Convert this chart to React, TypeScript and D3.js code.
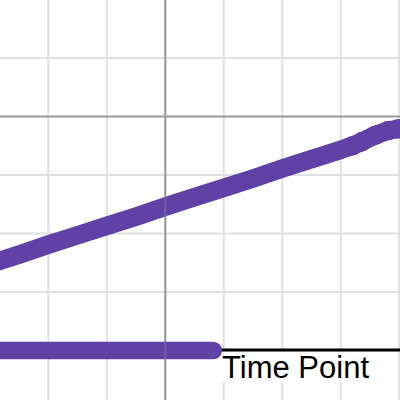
import React from "react";
import * as d3 from "d3";

// Diagonal series (time point, value), in grid units
const diagX = [-3, -2.5, -2, -1.5, -1, -0.5, 0, 0.5, 1, 1.5, 2, 2.5, 3, 3.2, 3.36, 3.59, 3.81, 3.98, 4.18];
const diagY = [-2.52, -2.36, -2.19, -2.03, -1.87, -1.71, -1.54, -1.38, -1.22, -1.06, -0.89, -0.73, -0.57, -0.5, -0.43, -0.32, -0.24, -0.21, -0.19];

// Flat series
const flatX = [-3, -2.5, -2, -1.5, -1, -0.5, 0, 0.5, 0.82];
const flatY = [-4, -4, -4, -4, -4, -4, -4, -4, -4];

const gridX = [-2, -1, 0, 1, 2, 3, 4];
const gridY = [1, 0, -1, -2, -3, -4];
const axisLabel = "Time Point";
const baselineValue = -3.99;

const W = 400;
const H = 400;
const UNIT = 58.5;
const OX = 165.3;
const OY = 116.5;

const x = d3.scaleLinear().domain([-OX / UNIT, (W - OX) / UNIT]).range([0, W]);
const y = d3.scaleLinear().domain([OY / UNIT, -(H - OY) / UNIT]).range([0, H]);

const PURPLE = "#6042a6";
const RF = 8.8;
const RD = 9.8;

export default function App() {
  const diag = diagX.map((v, i) => [v, diagY[i]] as [number, number]);
  const flat = flatX.map((v, i) => [v, flatY[i]] as [number, number]);
  const line = d3
    .line<[number, number]>()
    .x((d) => x(d[0]))
    .y((d) => y(d[1]));

  return (
    <div style={{ position: "fixed", left: 0, top: 0 }}>
      <svg width={W} height={H} style={{ display: "block", background: "#fff" }}>
        {gridX.filter((g) => g !== 0).map((g) => (
          <line key={"gx" + g} x1={x(g)} x2={x(g)} y1={0} y2={H} stroke="#e0e0e0" strokeWidth={2} />
        ))}
        {gridY.filter((g) => g !== 0).map((g) => (
          <line key={"gy" + g} x1={0} x2={W} y1={y(g)} y2={y(g)} stroke="#e0e0e0" strokeWidth={2} />
        ))}
        <line x1={x(0)} x2={x(0)} y1={0} y2={H} stroke="#999" strokeWidth={2} />

        <line x1={0} x2={W} y1={y(baselineValue)} y2={y(baselineValue)} stroke="#000" strokeWidth={3} />
        <rect x={219} y={352} width={153} height={31} fill="#fff" />
        <text
          x={222}
          y={378}
          fontFamily="'Liberation Sans', Arial, sans-serif"
          fontSize={31}
          fill="#000"
        >
          {axisLabel}
        </text>

        <path d={line(flat) || ""} fill="none" stroke={PURPLE} strokeWidth={2 * RF} strokeLinecap="round" strokeLinejoin="round" />
        <path d={line(diag) || ""} fill="none" stroke={PURPLE} strokeWidth={2 * RD - 1} strokeLinecap="round" strokeLinejoin="round" />
        {diag.slice(13).map((d, i) => (
          <circle key={"d" + i} cx={x(d[0])} cy={y(d[1])} r={RD} fill={PURPLE} />
        ))}

        <line x1={x(0)} x2={x(0)} y1={0} y2={H} stroke="#999" strokeWidth={2} strokeOpacity={0.3} />
        <line x1={0} x2={W} y1={y(0)} y2={y(0)} stroke="#999" strokeWidth={2} />
      </svg>
    </div>
  );
}
